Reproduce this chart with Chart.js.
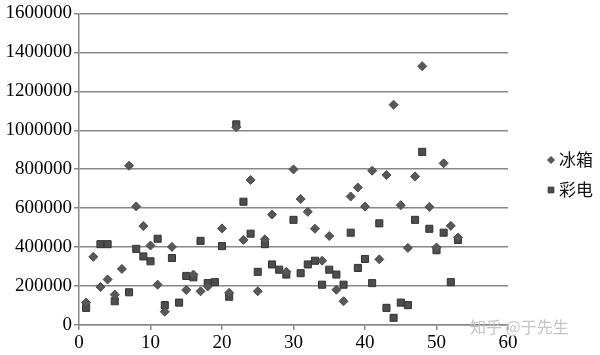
<!DOCTYPE html>
<html>
<head>
<meta charset="utf-8">
<script src="https://cdn.jsdelivr.net/npm/chart.js@4/dist/chart.umd.min.js"></script>
<style>
  html, body { margin: 0; padding: 0; background: #fff; }
  #wrap { width: 600px; height: 355px; }
</style>
</head>
<body>
<div id="wrap"><canvas id="chart"></canvas></div>
<script>
// x positions (1..53) and the two series; null = no visible point
const xs = [];
for (let i = 1; i <= 53; i++) xs.push(i);

const fridge = [115000, 350000, 195000, 234000, 156000, 288000, 818000, 609000, 508000, 408000,
  207000, 68000, 401000, null, 180000, 259000, 173000, 198000, null, 496000,
  165000, 1015000, 437000, 745000, 173000, 440000, 567000, null, 273000, 799000,
  647000, 581000, 494000, 330000, 457000, 181000, 122000, 660000, 706000, 608000,
  792000, 337000, 770000, 1131000, 615000, 396000, 763000, 1329000, 606000, 398000,
  830000, 509000, 449000];

const tv = [88000, null, 415000, 415000, 122000, null, 168000, 391000, 352000, 327000,
  443000, 102000, 344000, 115000, 252000, 245000, 432000, 215000, 220000, 405000,
  145000, 1030000, 633000, 469000, 273000, 415000, 311000, 284000, 259000, 540000,
  266000, 311000, 330000, 207000, 284000, 259000, 207000, 474000, 293000, 339000,
  215000, 522000, 88000, 37000, 115000, 102000, 540000, 889000, 494000, 384000,
  474000, 220000, 437000];

const toPoints = vals => xs.map((x, i) => ({ x: x, y: vals[i] })).filter(p => p.y !== null);

// legend on the right, drawn by hand so it sits where the original has it
const sideLegend = {
  id: 'sideLegend',
  afterDraw(chart) {
    const ctx = chart.ctx;
    ctx.save();
    ctx.textBaseline = 'middle';
    chart.data.datasets.forEach((ds, i) => {
      const y = 160 + i * 30;
      ctx.fillStyle = ds.backgroundColor;
      ctx.strokeStyle = ds.borderColor;
      ctx.lineWidth = 1;
      Chart.helpers.drawPoint(ctx, {
        pointStyle: ds.pointStyle,
        radius: ds.pointStyle === 'rect' ? 4 : 3.5,
        borderWidth: 1
      }, 551, y);
      ctx.font = '17px "Noto Sans CJK SC"';
      ctx.fillStyle = '#111';
      ctx.fillText(ds.label, 559, y);
    });
    // grey watermark in the lower right corner
    ctx.font = '16px "Noto Sans CJK SC"';
    ctx.fillStyle = '#c4c4c4';
    ctx.fillText('知乎 @于先生', 470, 327);
    ctx.restore();
  }
};

new Chart(document.getElementById('chart'), {
  type: 'scatter',
  data: {
    datasets: [{
      label: '冰箱',
      data: toPoints(fridge),
      pointStyle: 'rectRot',
      pointRadius: 4.5,
      backgroundColor: '#585858',
      borderColor: '#4a4a4a',
      borderWidth: 1
    }, {
      label: '彩电',
      data: toPoints(tv),
      pointStyle: 'rect',
      pointRadius: 5,
      backgroundColor: '#4d4d4d',
      borderColor: '#333333',
      borderWidth: 1
    }]
  },
  options: {
    responsive: true,
    maintainAspectRatio: false,
    animation: false,
    layout: { padding: { top: 10, right: 92 } },
    plugins: {
      tooltip: { enabled: false },
      legend: { display: false }
    },
    scales: {
      x: {
        type: 'linear',
        min: 0,
        max: 60,
        ticks: {
          stepSize: 10,
          color: '#000',
          padding: 2,
          font: { family: '"Liberation Serif"', size: 19 }
        },
        grid: { drawOnChartArea: false, color: '#888', lineWidth: 1.5, tickLength: 5 },
        border: { color: '#888', width: 1.5 },
        afterFit: s => { s.height = 30; }
      },
      y: {
        min: 0,
        max: 1600000,
        ticks: {
          stepSize: 200000,
          color: '#000',
          padding: 2,
          font: { family: '"Liberation Serif"', size: 19 },
          callback: v => String(v)
        },
        grid: { color: '#888', lineWidth: 1.5, tickLength: 5 },
        border: { color: '#888', width: 1.5 },
        afterFit: s => { s.width = 79; }
      }
    }
  },
  plugins: [sideLegend]
});
</script>
</body>
</html>
